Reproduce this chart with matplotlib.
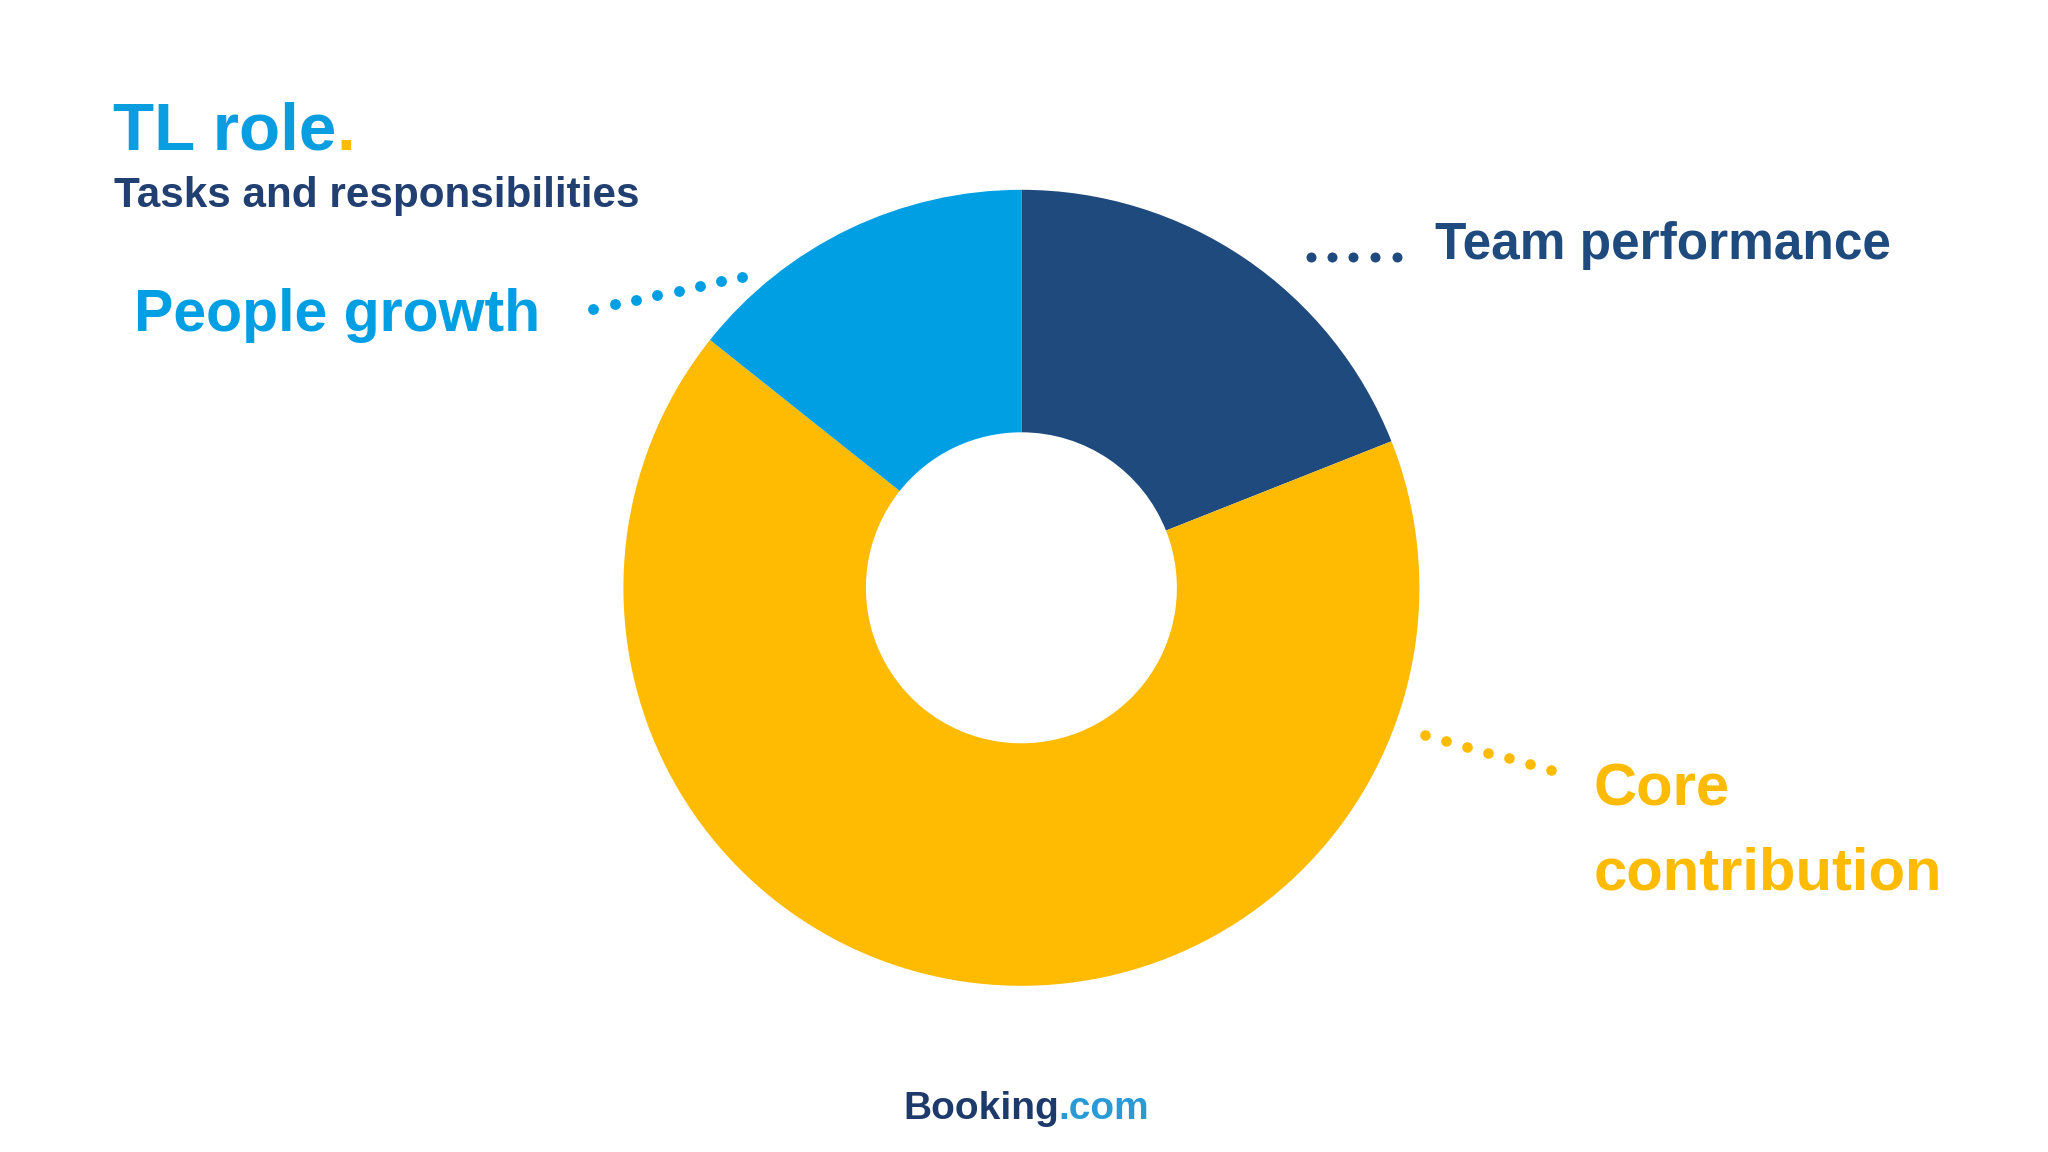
import matplotlib
matplotlib.use("Agg")
import matplotlib.pyplot as plt

# ---- data ----
categories = ["Team performance", "Core contribution", "People growth"]
values = [19.0, 66.7, 14.3]
colors = ["#1f4a7e", "#febb02", "#009fe3"]

title = "TL role"
subtitle = "Tasks and responsibilities"

FONT = "Liberation Sans"
W, H = 2048, 1152
fig = plt.figure(figsize=(W / 100, H / 100), dpi=100)
fig.patch.set_facecolor("white")

# ---- donut ----
cx, cy, R = 1021.4, 587.8, 398.0
pax = fig.add_axes([(cx - R) / W, (H - cy - R) / H, 2 * R / W, 2 * R / H])
pax.pie(values, colors=colors, startangle=90, counterclock=False,
        radius=1.0, wedgeprops=dict(width=1 - 155.5 / 398.0, linewidth=0))
pax.set_xlim(-1, 1)
pax.set_ylim(-1, 1)
pax.set_aspect("equal")
pax.axis("off")

# ---- overlay for text ----
ax = fig.add_axes([0, 0, 1, 1])
ax.set_xlim(0, W)
ax.set_ylim(H, 0)
ax.axis("off")
renderer = fig.canvas.get_renderer()


def two_tone(x, y, s1, s2, size, c1, c2):
    t1 = ax.text(x, y, s1, fontsize=size, fontweight="bold", family=FONT,
                 color=c1, va="baseline")
    bb = t1.get_window_extent(renderer=renderer)
    x2 = ax.transData.inverted().transform((bb.x1, 0))[0]
    ax.text(x2, y, s2, fontsize=size, fontweight="bold", family=FONT,
            color=c2, va="baseline")


two_tone(113, 150, title, ".", 48.5, "#0a9de0", "#febb02")
ax.text(114, 206.5, subtitle, fontsize=30.4, fontweight="bold", family=FONT,
        color="#223f72", va="baseline")

# labels
ax.text(134, 331, categories[2], fontsize=42.5, fontweight="bold", family=FONT,
        color=colors[2], va="baseline")
ax.text(1435, 259, categories[0], fontsize=37, fontweight="bold", family=FONT,
        color=colors[0], va="baseline")
ax.text(1594, 806, "Core", fontsize=43, fontweight="bold", family=FONT,
        color=colors[1], va="baseline")
ax.text(1594, 890, "contribution", fontsize=43, fontweight="bold", family=FONT,
        color=colors[1], va="baseline")

# dotted leaders
pg_x = [593.3, 614.7, 636.0, 657.3, 678.7, 700.0, 721.3, 742.3]
pg_y = [309.0, 304.3, 299.7, 294.7, 290.7, 286.0, 281.3, 277.0]
ax.plot(pg_x, pg_y, "o", color=colors[2], ms=7.8, mew=0)
tp_x = [1310.7, 1331.7, 1353.3, 1375.0, 1396.7]
tp_y = [257.3] * 5
ax.plot(tp_x, tp_y, "o", color=colors[0], ms=7.2, mew=0)
cc_x = [1425.0, 1446.0, 1467.0, 1488.0, 1508.7, 1529.7, 1550.7]
cc_y = [734.7, 740.7, 746.7, 752.7, 758.3, 764.3, 770.3]
ax.plot(cc_x, cc_y, "o", color=colors[1], ms=7.6, mew=0)

# logo
two_tone(903, 1119, "Booking", ".com", 28, "#1d3a6b", "#2a9ad6")

fig.savefig("out.png", dpi=100, facecolor="white")
